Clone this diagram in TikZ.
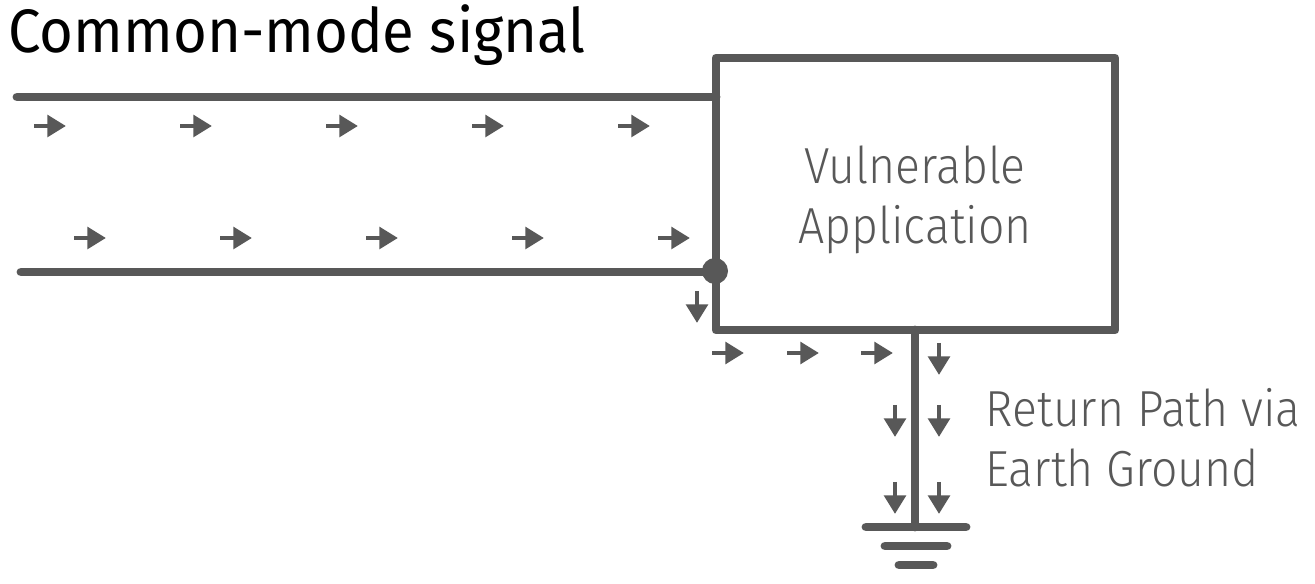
\documentclass[tikz,border=0pt]{standalone}
\usepackage{fontspec}
\setmainfont{Fira Sans Light}
\newfontfamily\labfont[FakeStretch=0.915]{Fira Sans Light}
\newfontfamily\titlefont[FakeStretch=0.947]{Fira Sans}
\usetikzlibrary{arrows.meta}
\definecolor{ink}{RGB}{88,88,88}
\tikzset{
  wire/.style={draw=ink,line width=6.7pt,line cap=round,line join=round},
  flow/.style={draw=ink,line width=3.6pt,-{Triangle[length=14pt,width=16pt]}},
  lab/.style={text=ink,font=\labfont\fontsize{38pt}{45pt}\selectfont,inner sep=0pt},
}
\newcommand{\rarrow}[3]{\coordinate (#1a) at (#2,#3); \coordinate (#1b) at (#2+32,#3); \draw[flow] (#1a) -- (#1b);}
\newcommand{\darrow}[3]{\coordinate (#1a) at (#2,#3); \coordinate (#1b) at (#2,#3+32); \draw[flow] (#1a) -- (#1b);}
\begin{document}
\begin{tikzpicture}[x=0.75pt,y=-0.75pt]
\useasboundingbox (0,0) rectangle (1315,584);
\node[wire,draw,outer sep=0pt,minimum width=299.25pt,minimum height=204pt,inner sep=0pt,anchor=north west] (box) at (716,58) {};
\node[lab,align=center] (app) at (915,199.5) {Vulnerable\\Application};
\coordinate (top) at (17,97);
\coordinate (topend) at (716,97);
\coordinate (bot) at (21,272);
\coordinate (botend) at (715,272);
\coordinate (dotc) at (715,271);
\coordinate (gt) at (915,330);
\coordinate (gb) at (915,527);
\draw[wire] (top) -- (topend);
\draw[wire] (bot) -- (botend);
\draw[wire] (gt) -- (gb);
\node[circle,fill=ink,inner sep=0pt,minimum size=19.5pt] (dot) at (dotc) {};
\coordinate (g1a) at (866,527); \coordinate (g1b) at (966,527);
\coordinate (g2a) at (885,546); \coordinate (g2b) at (947,546);
\coordinate (g3a) at (899,565); \coordinate (g3b) at (933,565);
\draw[wire] (g1a) -- (g1b);
\draw[wire] (g2a) -- (g2b);
\draw[wire] (g3a) -- (g3b);
\rarrow{r1}{34}{126}\rarrow{r2}{180}{126}\rarrow{r3}{326}{126}\rarrow{r4}{472}{126}\rarrow{r5}{618}{126}
\rarrow{s1}{74}{238}\rarrow{s2}{220}{238}\rarrow{s3}{366}{238}\rarrow{s4}{512}{238}\rarrow{s5}{658}{238}
\rarrow{t1}{712}{353}\rarrow{t2}{787}{353}\rarrow{t3}{861}{353}
\darrow{d1}{697}{291}
\darrow{d2}{939}{343}
\darrow{d3}{895}{405}\darrow{d4}{939}{405}
\darrow{d5}{895}{482}\darrow{d6}{939}{482}
\node[lab,anchor=west,align=left] (ret) at (985.5,438) {Return Path via\\Earth Ground};
\node[inner sep=0pt,anchor=base west,text=black,font=\titlefont\fontsize{46pt}{50pt}\selectfont] (title) at (8,53) {Common-mode signal};
\end{tikzpicture}
\end{document}
